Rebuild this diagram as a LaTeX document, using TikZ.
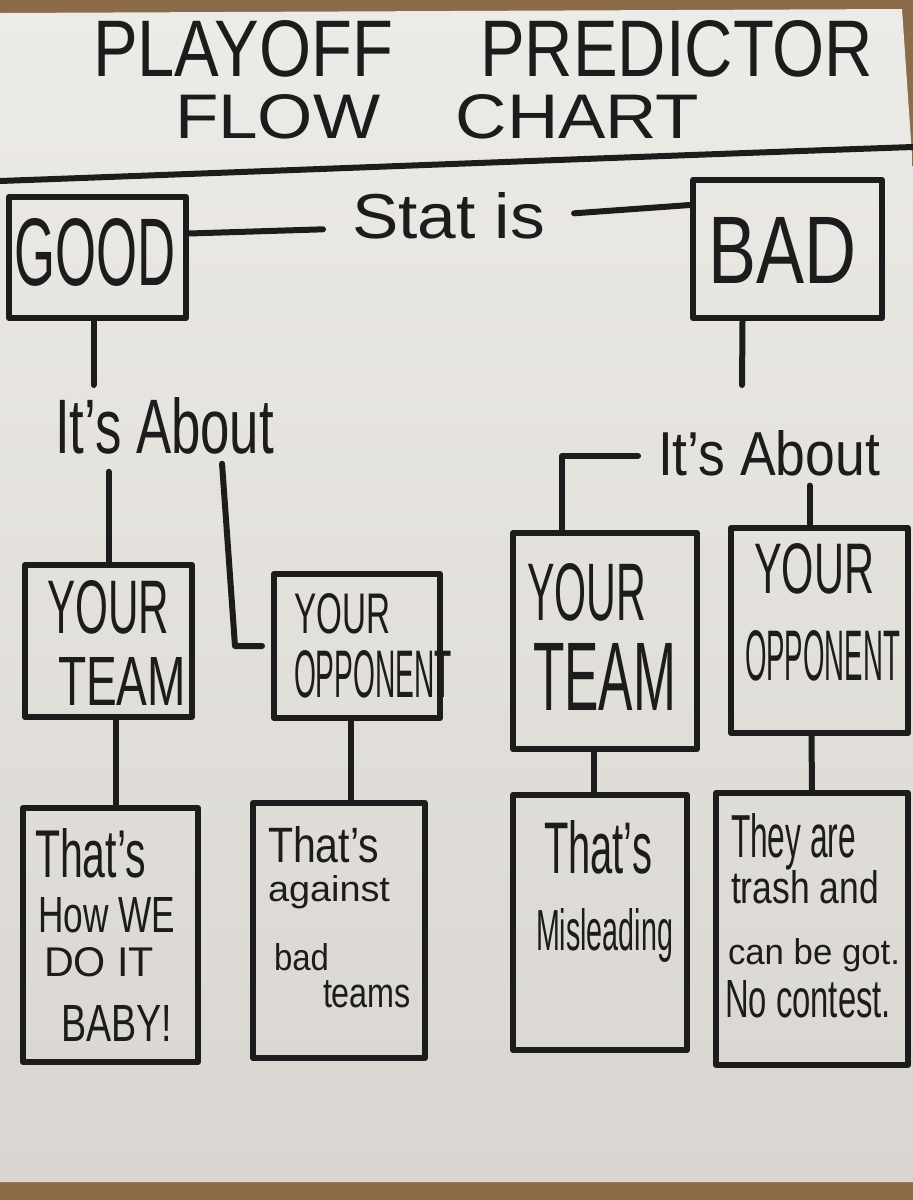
\documentclass[tikz,border=0pt]{standalone}
\usepackage{fontspec}
\setmainfont{Liberation Sans}
\usetikzlibrary{calc}
\definecolor{ink}{HTML}{1C1C1C}
\definecolor{wood}{HTML}{8C6B49}
\definecolor{papertop}{HTML}{EDEBE7}
\definecolor{paperbot}{HTML}{D9D6D1}
\tikzset{
  box/.style={draw=ink, line width=6pt, inner sep=0pt, line join=round},
  hand/.style={inner sep=0pt, outer sep=0pt, text=ink, anchor=north west},
  wire/.style={draw=ink, line width=6pt, line cap=round, line join=round}
}
% box: name, x1, y1, x2, y2
\newcommand{\mybox}[5]{\node[box, minimum width={(#4)-(#2)}, minimum height={(#5)-(#3)}] (#1) at ({((#2)+(#4))/2},{((#3)+(#5))/2}) {};}
% text: name, left x, top y, width, height above baseline, text
\newcommand{\hw}[6]{\node[hand] (#1) at (#2,#3) {\resizebox{#4pt}{#5pt}{#6}};}
\begin{document}
\begin{tikzpicture}[x=1pt,y=-1pt]
\useasboundingbox (0,0) rectangle (913,1200);
% background: wood and paper
\fill[wood] (0,0) rectangle (913,1200);
\shade[top color=papertop, bottom color=paperbot] (0,13) -- (902,9) -- (913,170) -- (913,1182) -- (0,1182) -- cycle;
% title
\hw{title1}{93}{20}{780}{56}{PLAYOFF\hspace{1.3em}PREDICTOR}
\hw{title2}{175}{94}{524}{44}{FLOW\hspace{1.06em}CHART}
\draw[wire] (0,181) .. controls (300,170) and (600,158) .. (913,147);
% top row
\mybox{good}{9}{197}{186}{318}
\hw{goodT}{14}{218}{161}{67}{GOOD}
\hw{stat}{352}{192}{193}{46}{Stat is}
\mybox{bad}{693}{180}{882}{318}
\hw{badT}{708}{217}{148}{66}{BAD}
% It's About
\hw{about1}{55}{397}{219}{56}{It's About}
\hw{about2}{658}{430}{222}{45}{It's About}
% middle boxes
\mybox{lt}{25}{565}{192}{717}
\hw{ltA}{47}{580}{122}{53}{YOUR}
\hw{ltB}{58}{657}{128}{48}{TEAM}
\mybox{lo}{274}{574}{440}{718}
\hw{loA}{294}{593}{96}{40}{YOUR}
\hw{loB}{294}{650}{158}{47}{OPPONENT}
\mybox{rt}{513}{533}{697}{749}
\hw{rtA}{527}{563}{119}{57}{YOUR}
\hw{rtB}{533}{643}{143}{67}{TEAM}
\mybox{ro}{731}{528}{908}{733}
\hw{roA}{754}{543}{120}{50}{YOUR}
\hw{roB}{745}{630}{155}{50}{OPPONENT}
% bottom boxes
\mybox{b1}{23}{808}{198}{1062}
\hw{b1a}{35}{828}{111}{49}{That's}
\hw{b1b}{38}{897}{137}{35}{How WE}
\hw{b1c}{44}{947}{110}{29}{DO IT}
\hw{b1d}{61}{1005}{111}{36}{BABY!}
\mybox{b2}{253}{803}{425}{1058}
\hw{b2a}{268}{826}{111}{36}{That's}
\hw{b2b}{268}{875}{122}{26}{against}
\hw{b2c}{274}{943}{55}{27}{bad}
\hw{b2d}{323}{980}{88}{27}{teams}
\mybox{b3}{513}{795}{687}{1050}
\hw{b3a}{544}{820}{108}{53}{That's}
\hw{b3b}{536}{908}{137}{42}{Misleading}
\mybox{b4}{716}{793}{908}{1065}
\hw{b4a}{731}{813}{125}{44}{They are}
\hw{b4b}{731}{870}{148}{33}{trash and}
\hw{b4c}{728}{938}{172}{26}{can be got.}
\hw{b4d}{725}{980}{166}{37}{No contest.}
% connectors
\draw[wire] ([yshift=24pt]good.east) -- ([xshift=-29pt,yshift=-14pt]stat.west);
\draw[wire] ([xshift=29pt,yshift=2pt]stat.east) -- ([yshift=44pt]bad.west);
\draw[wire] ($(good.south)+(-4,0)$) -- ($(good.south |- about1.north)+(-4,-12)$);
\draw[wire] ($(bad.south)+(-45,0)$) -- ($(about2.north)+(-27,-45)$);
\draw[wire] (lt.north) -- ($(lt.north |- about1.south)+(0,18)$);
\draw[wire] ($(about1.south east)+(-52,10)$) -- ($(lo.west)+(-36,0)$) -- ($(lo.west)+(-9,0)$);
\draw[wire] ($(about2.west)+(-20,3)$) -| ($(rt.north west)+(52,0)$);
\draw[wire] ($(ro.north)+(-10,0)$) -- ($(ro.north |- about2.south)+(-10,10)$);
\draw[wire] ($(lt.south)+(7,0)$) -- ($(b1.north)+(5,0)$);
\draw[wire] ($(lo.south)+(-6,0)$) -- ($(b2.north)+(12,0)$);
\draw[wire] ($(rt.south)+(-11,0)$) -- ($(b3.north)+(-6,0)$);
\draw[wire] ($(ro.south)+(-8,0)$) -- (b4.north);
\end{tikzpicture}
\end{document}
